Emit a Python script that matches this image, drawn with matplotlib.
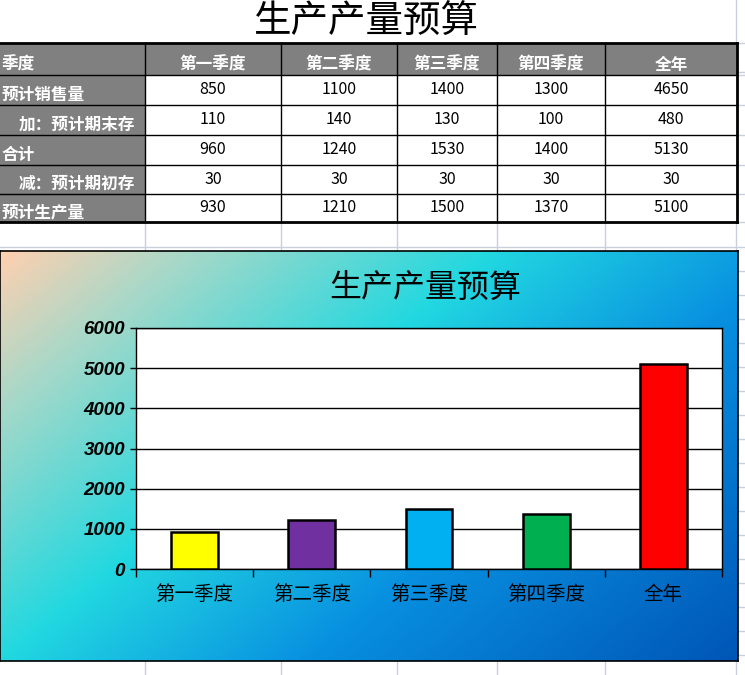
import numpy as np
import matplotlib
matplotlib.use('Agg')
import matplotlib.pyplot as plt
from matplotlib.colors import LinearSegmentedColormap
from matplotlib.patches import Rectangle

plt.rcParams['font.family'] = ['Noto Sans CJK SC', 'DejaVu Sans']

# data
title = '生产产量预算'
columns = ['季度', '第一季度', '第二季度', '第三季度', '第四季度', '全年']
row_labels = ['预计销售量', '加：预计期末存', '合计', '减：预计期初存', '预计生产量']
row_indent = [0, 1, 0, 1, 0]
sales = [850, 1100, 1400, 1300, 4650]
end_stock = [110, 140, 130, 100, 480]
total = [960, 1240, 1530, 1400, 5130]
begin_stock = [30, 30, 30, 30, 30]
production = [930, 1210, 1500, 1370, 5100]
table_rows = [sales, end_stock, total, begin_stock, production]

categories = columns[1:]
bar_colors = ['#FFFF00', '#7030A0', '#00B0F0', '#00B050', '#FF0000']
y_ticks = [0, 1000, 2000, 3000, 4000, 5000, 6000]

W, H = 745, 675
fig = plt.figure(figsize=(W / 100, H / 100), dpi=100)


def px_rect(x0, y0, x1, y1):
    # pixel box (top-left origin) -> figure fraction
    return [x0 / W, 1 - y1 / H, (x1 - x0) / W, (y1 - y0) / H]


# worksheet layer, pixel coordinates
sheet = fig.add_axes([0, 0, 1, 1])
sheet.set_xlim(0, W)
sheet.set_ylim(H, 0)
sheet.axis('off')

col_x = [0, 145, 281, 397, 497, 605, 737]
row_y = [43, 75, 105, 135, 165, 194, 222]
grid_c = '#c9cfdd'

# light sheet gridlines
for y in [43, 72, 75, 105, 135, 165, 194, 222] + list(range(247, H, 24)):
    sheet.plot([0 if y >= 222 else 737, W], [y, y], color=grid_c, lw=1, zorder=1)
for x in col_x[1:-1]:
    sheet.plot([x, x], [222, H], color=grid_c, lw=1, zorder=1)
sheet.plot([736, 736], [0, H], color=grid_c, lw=1, zorder=1)

sheet.text(366, 22, title, ha='center', va='center', fontsize=27, fontweight='medium', zorder=5)

# table cells
for i in range(len(col_x) - 1):
    sheet.add_patch(Rectangle((col_x[i], row_y[0]), col_x[i + 1] - col_x[i], row_y[1] - row_y[0],
                              facecolor='#808080', edgecolor='none', zorder=2))
for r in range(len(row_labels)):
    y0, y1 = row_y[r + 1], row_y[r + 2]
    sheet.add_patch(Rectangle((0, y0), col_x[1], y1 - y0, facecolor='#808080', edgecolor='none', zorder=2))
    sheet.add_patch(Rectangle((col_x[1], y0), col_x[-1] - col_x[1], y1 - y0, facecolor='white',
                              edgecolor='none', zorder=2))
    sheet.text(2 + 17 * row_indent[r], y1 - 1, row_labels[r], ha='left', va='bottom', color='white',
               fontsize=12, fontweight='bold', zorder=5)
    for c, v in enumerate(table_rows[r]):
        sheet.text((col_x[c + 1] + col_x[c + 2]) / 2, (y0 + y1) / 2, str(v), ha='center', va='center',
                   fontsize=11.5, zorder=5)

for c, name in enumerate(columns):
    if c == 0:
        sheet.text(2, row_y[1] - 1, name, ha='left', va='bottom', color='white', fontsize=12,
                   fontweight='bold', zorder=5)
    else:
        sheet.text((col_x[c] + col_x[c + 1]) / 2, row_y[1] - 1, name, ha='center', va='bottom',
                   color='white', fontsize=12, fontweight='bold', zorder=5)

for y in row_y[1:-1]:
    sheet.plot([0, col_x[-1]], [y, y], color='black', lw=1, zorder=3)
for x in col_x[1:-1]:
    sheet.plot([x, x], [row_y[0], row_y[-1]], color='black', lw=1, zorder=3)
sheet.plot([0, col_x[-1]], [row_y[0], row_y[0]], color='black', lw=2, zorder=4)
sheet.plot([0, col_x[-1]], [row_y[-1], row_y[-1]], color='black', lw=2, zorder=4)
sheet.plot([col_x[-1], col_x[-1]], [row_y[0], row_y[-1]], color='black', lw=2, zorder=4)

# chart background with diagonal gradient
bg = fig.add_axes(px_rect(0, 251, 738, 661))
xx, yy = np.meshgrid(np.linspace(0, 1, 400), np.linspace(0, 1, 250))
cmap = LinearSegmentedColormap.from_list('fill', [(0, '#ffd0b0'), (0.15, '#a8d8c8'), (0.4, '#22d8e0'),
                                                 (0.65, '#0890e0'), (1, '#0056b6')])
bg.imshow(0.6 * xx + 0.4 * yy, cmap=cmap, aspect='auto', extent=[0, 1, 1, 0], vmin=0, vmax=1)
bg.set_xticks([])
bg.set_yticks([])
for s in bg.spines.values():
    s.set_color('black')
    s.set_linewidth(1.2)
fig.text(425 / W, 1 - 288 / H, title, ha='center', va='center', fontsize=23)

# bar chart
ax = fig.add_axes(px_rect(136, 328, 722, 569))
x = np.arange(len(categories))
ax.bar(x, production, width=0.4, color=bar_colors, edgecolor='black', linewidth=1.8, zorder=3)
ax.set_xlim(-0.5, len(categories) - 0.5)
ax.set_ylim(0, 6000)
ax.set_yticks(y_ticks)
ax.yaxis.grid(True, color='black', lw=1)
ax.set_axisbelow(True)
for s in ax.spines.values():
    s.set_color('black')
    s.set_linewidth(1)
ax.set_xticks(x)
ax.set_xticklabels(categories, fontsize=14)
ax.set_xticks(np.arange(-0.5, len(categories)), minor=True)
ax.tick_params(axis='x', which='major', length=0, pad=11)
ax.tick_params(axis='x', which='minor', length=6, width=1, direction='out')
ax.tick_params(axis='y', length=4, width=1, pad=4)
for lab in ax.get_yticklabels():
    lab.set_fontfamily('Liberation Sans')
    lab.set_fontweight('bold')
    lab.set_fontstyle('italic')
    lab.set_fontsize(13.5)

fig.savefig('out.png', dpi=100)
